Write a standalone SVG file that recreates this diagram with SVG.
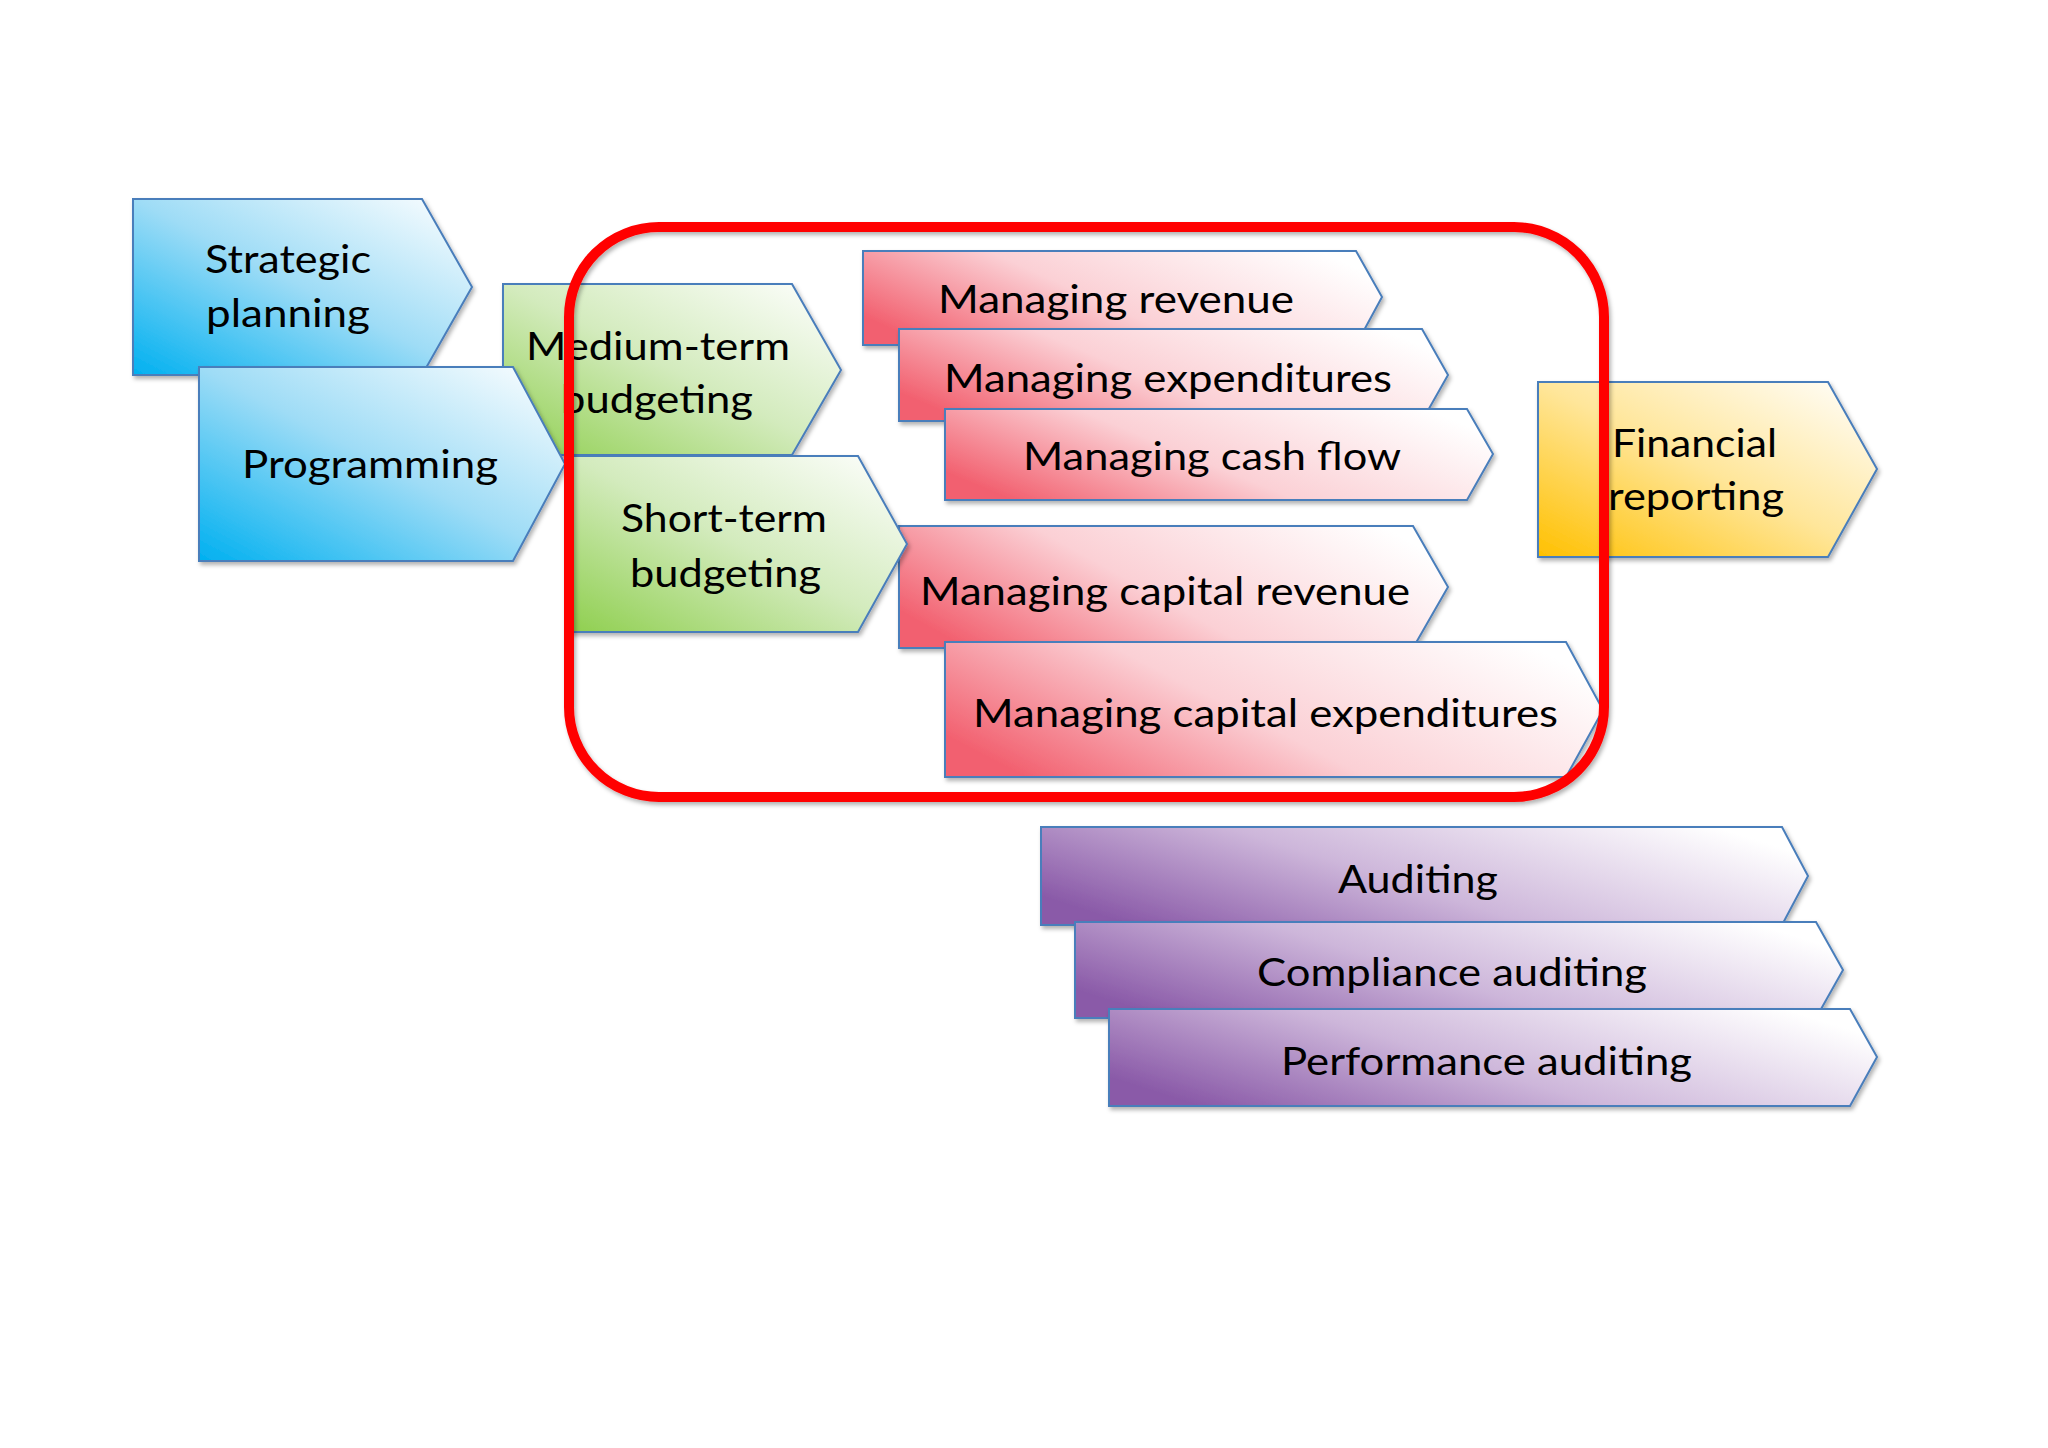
<svg xmlns="http://www.w3.org/2000/svg" width="2048" height="1448" viewBox="0 0 2048 1448">
<style>
.sh{stroke:#4a7ebb;stroke-width:2;stroke-linejoin:miter;filter:url(#ds)}
.t{font-family:Lato,"Open Sans","Liberation Sans",sans-serif;font-size:39px;fill:#000}
</style>
<defs>
<filter id="ds" x="-10%" y="-10%" width="125%" height="130%">
<feDropShadow dx="2" dy="3" stdDeviation="2" flood-color="#000" flood-opacity="0.3"/>
</filter>
<linearGradient id="gBlue" x1="0" y1="1" x2="1" y2="0">
<stop offset="0" stop-color="#00b0f0"/><stop offset="0.5" stop-color="#9edcf6"/><stop offset="1" stop-color="#ffffff"/>
</linearGradient>
<linearGradient id="gGreen" x1="0" y1="1" x2="1" y2="0">
<stop offset="0" stop-color="#8fcf4f"/><stop offset="0.5" stop-color="#d3ebbd"/><stop offset="1" stop-color="#ffffff"/>
</linearGradient>
<linearGradient id="gRed" x1="0" y1="0.7" x2="1" y2="0.3">
<stop offset="0" stop-color="#f2606f"/><stop offset="0.45" stop-color="#fbd0d5"/><stop offset="1" stop-color="#ffffff"/>
</linearGradient>
<linearGradient id="gYellow" x1="0" y1="1" x2="1" y2="0">
<stop offset="0" stop-color="#ffc000"/><stop offset="0.5" stop-color="#ffe69a"/><stop offset="1" stop-color="#ffffff"/>
</linearGradient>
<linearGradient id="gPurple" x1="0" y1="0.7" x2="1" y2="0.3">
<stop offset="0" stop-color="#8a5aa8"/><stop offset="0.45" stop-color="#cdb6da"/><stop offset="1" stop-color="#ffffff"/>
</linearGradient>
</defs>
<rect x="0" y="0" width="2048" height="1448" fill="#ffffff"/>

<g id="strategic-planning">
<polygon class="sh" fill="url(#gBlue)" points="133,199 422,199 472,287 422,375 133,375"/>
<text class="t" x="205" y="273" textLength="166" lengthAdjust="spacingAndGlyphs">Strategic</text>
<text class="t" x="206" y="327" textLength="164" lengthAdjust="spacingAndGlyphs">planning</text>
</g>

<g id="medium-term-budgeting">
<polygon class="sh" fill="url(#gGreen)" points="503,284 792,284 841,370 792,455 503,455"/>
<text class="t" x="526" y="360" textLength="264" lengthAdjust="spacingAndGlyphs">Medium-term</text>
<text class="t" x="561" y="413" textLength="192" lengthAdjust="spacingAndGlyphs">budgeting</text>
</g>

<g id="programming">
<polygon class="sh" fill="url(#gBlue)" points="199,367 513,367 565,464 513,561 199,561"/>
<text class="t" x="242" y="478" textLength="256" lengthAdjust="spacingAndGlyphs">Programming</text>
</g>

<g id="managing-capital-revenue">
<polygon class="sh" fill="url(#gRed)" points="899,526 1413,526 1448,587 1413,648 899,648"/>
<text class="t" x="920" y="605" textLength="490" lengthAdjust="spacingAndGlyphs">Managing capital revenue</text>
</g>

<g id="short-term-budgeting">
<polygon class="sh" fill="url(#gGreen)" points="570,456 858,456 907,544 858,632 570,632"/>
<text class="t" x="621" y="532" textLength="206" lengthAdjust="spacingAndGlyphs">Short-term</text>
<text class="t" x="630" y="587" textLength="191" lengthAdjust="spacingAndGlyphs">budgeting</text>
</g>

<g id="managing-capital-expenditures">
<polygon class="sh" fill="url(#gRed)" points="945,642 1566,642 1603,710 1566,777 945,777"/>
<text class="t" x="973" y="727" textLength="585" lengthAdjust="spacingAndGlyphs">Managing capital expenditures</text>
</g>

<g id="managing-revenue">
<polygon class="sh" fill="url(#gRed)" points="863,251 1356,251 1382,297 1356,345 863,345"/>
<text class="t" x="938" y="313" textLength="356" lengthAdjust="spacingAndGlyphs">Managing revenue</text>
</g>

<g id="managing-expenditures">
<polygon class="sh" fill="url(#gRed)" points="899,329 1422,329 1448,375 1422,421 899,421"/>
<text class="t" x="944" y="392" textLength="448" lengthAdjust="spacingAndGlyphs">Managing expenditures</text>
</g>

<g id="managing-cash-flow">
<polygon class="sh" fill="url(#gRed)" points="945,409 1467,409 1493,454 1467,500 945,500"/>
<text class="t" x="1023" y="470" textLength="378" lengthAdjust="spacingAndGlyphs">Managing cash flow</text>
</g>

<g id="financial-reporting">
<polygon class="sh" fill="url(#gYellow)" points="1538,382 1828,382 1877,469 1828,557 1538,557"/>
<text class="t" x="1612" y="457" textLength="165" lengthAdjust="spacingAndGlyphs">Financial</text>
<text class="t" x="1608" y="510" textLength="176" lengthAdjust="spacingAndGlyphs">reporting</text>
</g>

<g id="auditing">
<polygon class="sh" fill="url(#gPurple)" points="1041,827 1782,827 1808,876 1782,925 1041,925"/>
<text class="t" x="1338" y="893" textLength="160" lengthAdjust="spacingAndGlyphs">Auditing</text>
</g>

<g id="compliance-auditing">
<polygon class="sh" fill="url(#gPurple)" points="1075,922 1816,922 1843,970 1816,1018 1075,1018"/>
<text class="t" x="1257" y="986" textLength="390" lengthAdjust="spacingAndGlyphs">Compliance auditing</text>
</g>

<g id="performance-auditing">
<polygon class="sh" fill="url(#gPurple)" points="1109,1009 1850,1009 1877,1057 1850,1106 1109,1106"/>
<text class="t" x="1281" y="1075" textLength="411" lengthAdjust="spacingAndGlyphs">Performance auditing</text>
</g>

<g id="connectors"></g>

<g id="highlight-frame">
<rect x="569" y="227" width="1035" height="570" rx="90" ry="90" fill="none" stroke="#ff0000" stroke-width="10" filter="url(#ds)"/>
</g>
</svg>
